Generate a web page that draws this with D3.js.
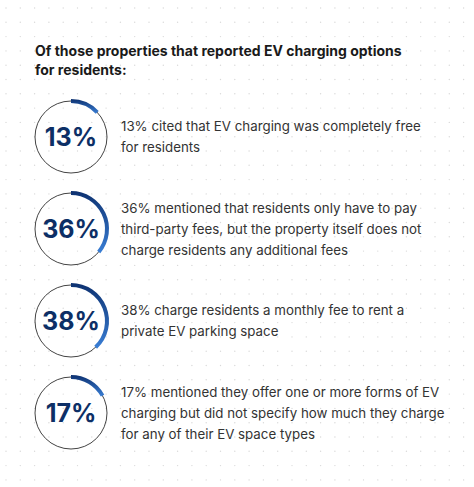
<!DOCTYPE html><html><head><script src="https://cdn.jsdelivr.net/npm/d3@7"></script>
<style>body{margin:0;background:#fff}</style></head><body><svg id="c" width="474" height="487"></svg>
<script>
const percents=[13,36,38,17];
const labels=["13%","36%","38%","17%"];
const descriptions=[
["13% cited that EV charging was completely free","for residents"],
["36% mentioned that residents only have to pay","third-party fees, but the property itself does not","charge residents any additional fees"],
["38% charge residents a monthly fee to rent a","private EV parking space"],
["17% mentioned they offer one or more forms of EV","charging but did not specify how much they charge","for any of their EV space types"]];
const title=["Of those properties that reported EV charging options","for residents:"];
const svg=d3.select("#c");
const defs=svg.append("defs");
const g=defs.append("linearGradient").attr("id","gr").attr("x1","0").attr("y1","0").attr("x2","0").attr("y2","1");
g.append("stop").attr("offset","0").attr("stop-color","#0d3170");
g.append("stop").attr("offset","1").attr("stop-color","#3a7fd6");
const gx=d3.range(6,474,14.3), gy=d3.range(8,487,14.3);
const dots=svg.append("g").attr("fill","#d9d9d9");
gx.forEach(x=>gy.forEach(y=>dots.append("circle").attr("cx",x).attr("cy",y).attr("r",0.7)));
svg.append("g").selectAll("text").data(title).join("text").attr("x",35).attr("y",(d,i)=>56+i*19)
 .attr("font-family","Inter").attr("font-weight",700).attr("font-size",14).attr("fill","#1a1a1a").text(d=>d);
const y=d3.scaleBand().domain(d3.range(4)).range([91,459]);
const ang=d3.scaleLinear().domain([0,100]).range([0,2*Math.PI]);
const arc=d3.arc().innerRadius(34).outerRadius(38).startAngle(0);
percents.forEach((p,i)=>{
 const cy=y(i)+y.bandwidth()/2, cx=71;
 const row=svg.append("g").attr("transform",`translate(${cx},${cy})`);
 row.append("circle").attr("r",36).attr("fill","none").attr("stroke","#444").attr("stroke-width",1);
 row.append("path").attr("d",arc({endAngle:ang(p)})).attr("fill","url(#gr)");
 row.append("text").attr("text-anchor","middle").attr("dy","0.36em").attr("font-family","Inter").attr("font-weight",700)
  .attr("font-size",25).attr("fill","#0d2f66").text(labels[i]);
 const d=descriptions[i];
 svg.append("g").selectAll("text").data(d).join("text").attr("x",121)
  .attr("y",(t,j)=>cy+4.5+(j-(d.length-1)/2)*21).attr("font-family","Inter").attr("font-size",13.3).attr("fill","#333").text(t=>t);
});
</script></body></html>
